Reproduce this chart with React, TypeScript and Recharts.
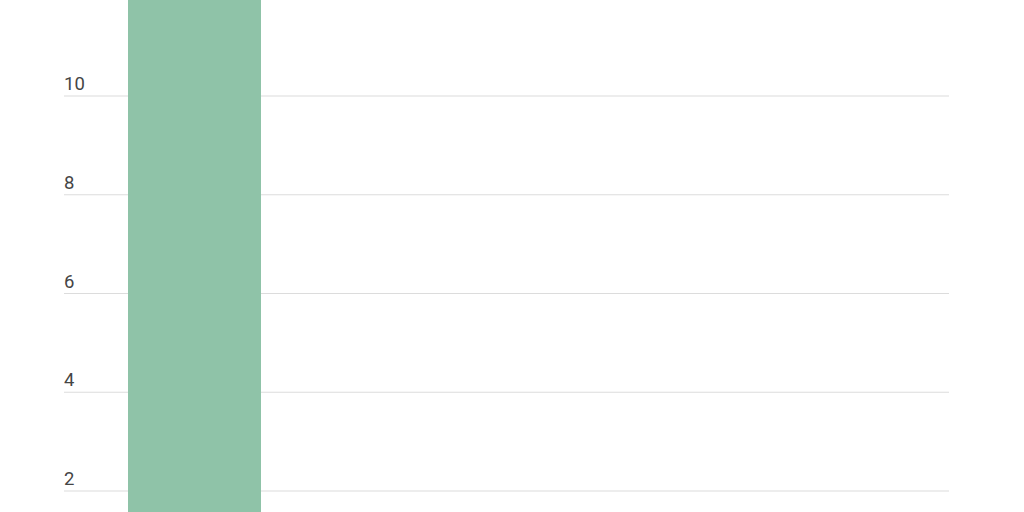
import { BarChart, Bar, XAxis, YAxis, CartesianGrid } from "recharts";

// only the first bar reaches into the visible window; the rest sit below the crop
const categories = ["A", "B", "C", "D", "E", "F"];
const values = [12, 1.2, 0.8, 1.4, 0.6, 1.0];
const yTicks = [0, 2, 4, 6, 8, 10, 12];

const data = categories.map((name, i) => ({ name, value: values[i] }));

// labels sit above their rule, flush with the left end of the grid
function YTick(props: any) {
  const { x, y, payload } = props;
  if (payload.value === 0 || payload.value === 12) return null;
  return (
    <text
      x={x}
      y={y - 6}
      textAnchor="start"
      fill="#454545"
      fontSize={18.5}
      fontFamily="Roboto, sans-serif"
    >
      {payload.value}
    </text>
  );
}

export default function App() {
  return (
    <div
      style={{
        position: "fixed",
        left: 0,
        top: 0,
        width: 1024,
        height: 512,
        overflow: "hidden",
        background: "#fff",
      }}
    >
      <div style={{ position: "absolute", left: 0, top: -40 }}>
        <BarChart
          width={1024}
          height={640}
          data={data}
          margin={{ top: 37.25, right: 75, bottom: 10.25, left: 63 }}
          barCategoryGap={0}
        >
          <CartesianGrid vertical={false} stroke="#dcdcdc" strokeWidth={1.2} />
          <XAxis dataKey="name" hide padding={{ left: 64, right: 23 }} />
          <YAxis
            width={1}
            domain={[0, 12]}
            ticks={yTicks}
            axisLine={false}
            tickLine={false}
            tickSize={0}
            tickMargin={0}
            tick={<YTick />}
            allowDataOverflow
          />
          <Bar dataKey="value" fill="#8fc3a8" isAnimationActive={false} />
        </BarChart>
      </div>
    </div>
  );
}
